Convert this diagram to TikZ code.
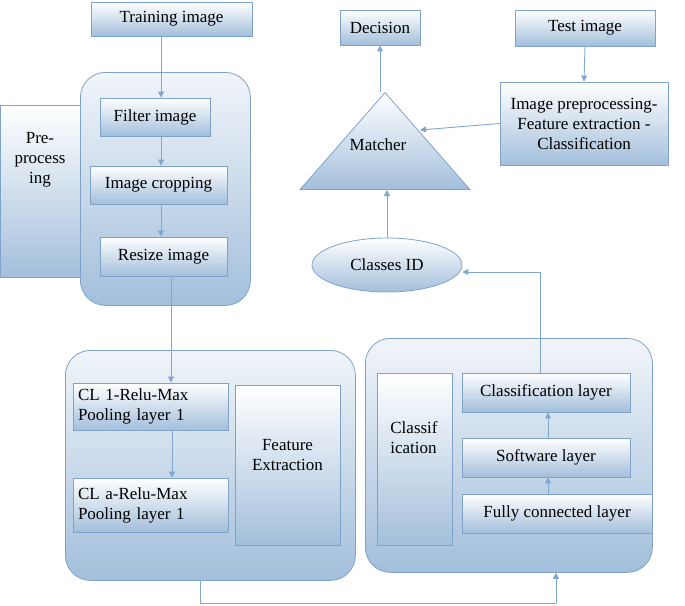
\documentclass[tikz,border=0pt]{standalone}
\usepackage{fontspec}
\setmainfont{Liberation Serif}
\usetikzlibrary{shapes.geometric,arrows.meta}
\definecolor{bd}{HTML}{7FA3C8}
\definecolor{bot}{HTML}{A3BFDB}
\definecolor{ln}{HTML}{7FA7D0}
\tikzset{fnt/.style={font=\fontsize{17}{20}\selectfont}}
\begin{document}
\begin{tikzpicture}[x=1pt,y=-1pt,
 box/.style={draw=bd,line width=0.8pt,top color=white,bottom color=bot,align=center,fnt,inner sep=0pt},
 big/.style={box,rounded corners=25pt,top color=white!60!bot!40,bottom color=bot},
 ar/.style={draw=ln,line width=0.9pt,-{Triangle[length=6pt,width=6pt]}},
 ln/.style={draw=ln,line width=0.9pt}]
\useasboundingbox (0,0) rectangle (685,605);
% left column
\node[box,minimum width=80pt,minimum height=172pt,anchor=north west] (pre) at (0,105) {};
\node[fnt,align=center] (pret) at (40,160) {Pre-\\process\\ing};
\node[big,minimum width=170pt,minimum height=233pt,anchor=north west] (preb) at (80,72) {};
\node[box,minimum width=161pt,minimum height=34pt] (train) at (171.5,19) {Training image};
\node[box,minimum width=110pt,minimum height=38pt] (filter) at (155,117) {Filter image};
\node[box,minimum width=137pt,minimum height=38pt] (crop) at (158.5,185) {Image cropping};
\node[box,minimum width=127pt,minimum height=39pt] (resize) at (163.5,256.5) {Resize image};
\draw[ar] (train.south -| 161,0) -- (filter.north -| 161,0);
\draw[ar] (filter.south -| 161,0) -- (crop.north -| 161,0);
\draw[ar] (crop.south -| 161,0) -- (resize.north -| 161,0);
% feature extraction
\node[big,minimum width=290pt,minimum height=230pt,anchor=north west] (feat) at (65,350) {};
\node[box,minimum width=155pt,minimum height=47pt,align=left,text width=145pt] (cl1) at (150.5,406.5) {CL 1-Relu-Max\\Pooling layer 1};
\node[box,minimum width=155pt,minimum height=54pt,align=left,text width=145pt] (cla) at (150.5,505) {CL a-Relu-Max\\Pooling layer 1};
\node[box,minimum width=105pt,minimum height=160pt,anchor=north west] (fe) at (235,385) {};
\node[fnt,align=center] (fet) at (287.5,455) {Feature\\Extraction};
\draw[ar] (resize.south -| 171,0) -- (cl1.north -| 171,0);
\draw[ar] (cl1.south -| 172,0) -- (cla.north -| 172,0);
% classification
\node[big,minimum width=287pt,minimum height=234pt,anchor=north west] (cls) at (365,338) {};
\node[box,minimum width=75pt,minimum height=172pt,anchor=north west] (cb) at (377,373) {};
\node[fnt,align=left] (cbt) at (414,438) {Classif\\ication};
\node[box,minimum width=168pt,minimum height=39pt] (clay) at (546,392.5) {Classification layer};
\node[box,minimum width=168pt,minimum height=39pt] (soft) at (546,457.5) {Software layer};
\node[box,minimum width=190pt,minimum height=39pt] (fc) at (557,513.5) {Fully connected layer};
\draw[ar] (fc.north -| 548,0) -- (soft.south -| 548,0);
\draw[ar] (soft.north -| 548,0) -- (clay.south -| 548,0);
\coordinate (b1) at (200,603); \coordinate (b2) at (556,603);
\draw[ln] (feat.south -| 200,0) -- (b1) -- (b2);
\draw[ar] (b2) -- (cls.south -| 556,0);
% right top
\node[box,ellipse,minimum width=150pt,minimum height=54pt] (cid) at (387,265) {Classes ID};
\coordinate (c1) at (540,272);
\draw[ln] (clay.north -| 540,0) -- (c1);
\draw[ar] (c1) -- (cid.east |- c1);
\node[box,isosceles triangle,shape border rotate=90,isosceles triangle stretches,minimum width=170pt,minimum height=97pt,anchor=south] (match) at (385,190) {};
\node[fnt] (mt) at (378,145) {Matcher};
\draw[ar] (cid.north) -- (match.south -| cid.north);
\node[box,minimum width=80pt,minimum height=35pt] (dec) at (380,27.5) {Decision};
\draw[ar] (match.apex -| 380,0) -- (dec.south);
\node[box,minimum width=140pt,minimum height=36pt] (test) at (585,28) {Test image};
\node[box,minimum width=168pt,minimum height=83pt] (ipp) at (584,123.5) {Image preprocessing-\\Feature extraction -\\Classification};
\draw[ar] (test.south) -- (ipp.north);
\draw[ar] (ipp.west) -- (420,130);
\end{tikzpicture}
\end{document}
